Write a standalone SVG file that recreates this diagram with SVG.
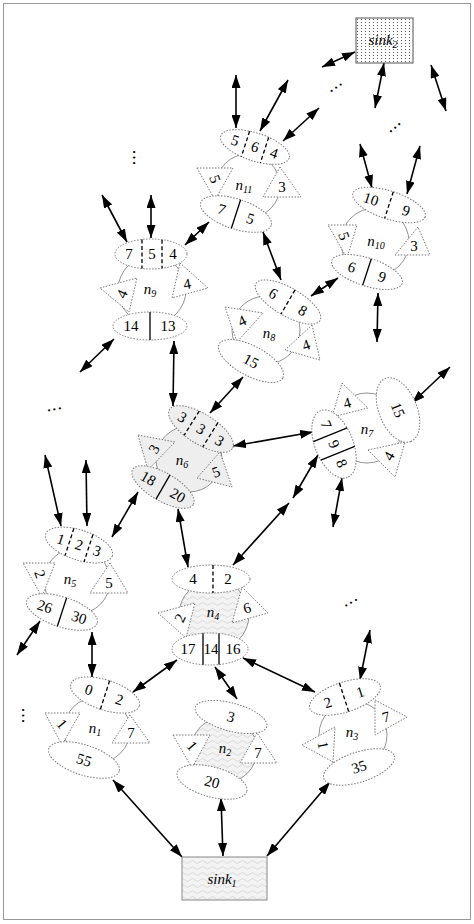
<svg xmlns="http://www.w3.org/2000/svg" width="474" height="924" viewBox="0 0 474 924">
<defs>
<marker id="ah" viewBox="0 0 13 9" refX="13" refY="4.5" markerWidth="13" markerHeight="9" markerUnits="userSpaceOnUse" orient="auto-start-reverse"><path d="M0,0 L13,4.5 L0,9 z" fill="#000"/></marker>
<pattern id="wave" width="10" height="6" patternUnits="userSpaceOnUse"><rect width="10" height="6" fill="#f3f3f3"/><path d="M0,4 Q2.5,1 5,4 T10,4" fill="none" stroke="#d2d2d2" stroke-width="0.8"/></pattern>
<pattern id="dots" width="4" height="3" patternUnits="userSpaceOnUse"><rect width="4" height="3" fill="#fff"/><circle cx="1.5" cy="1.5" r="0.6" fill="#444"/></pattern>
</defs>
<style>
.e{fill:#fff;stroke:#777;stroke-width:1;stroke-dasharray:1.5 1.5}
.b{fill:#fff;stroke:#777;stroke-width:0.8}
.t{fill:#fff;stroke:#777;stroke-width:1;stroke-dasharray:1.5 1.5}
.g .e,.g .b,.g .t{fill:#eeeeee}
.w{fill:url(#wave)}
.ds{stroke:#000;stroke-width:1.3;stroke-dasharray:4 2.5}
.ss{stroke:#000;stroke-width:1.3}
text{font-family:"Liberation Serif",serif;font-size:15px;text-anchor:middle;fill:#000}
.lab{font-style:italic}
.sub{font-size:10px}
.arr line{stroke:#000;stroke-width:1.6;marker-start:url(#ah);marker-end:url(#ah)}
.dd{font-size:18px;letter-spacing:1px}
</style>
<rect x="3.5" y="3.5" width="467" height="916" fill="none" stroke="#999" stroke-width="1"/>

<g id="connectors" class="arr">
<line x1="236" y1="75" x2="236" y2="128"/>
<line x1="288" y1="80" x2="260" y2="131"/>
<line x1="319" y1="108" x2="283" y2="141"/>
<line x1="185" y1="245" x2="209" y2="222"/>
<line x1="263" y1="232" x2="281" y2="280"/>
<line x1="102" y1="195" x2="127" y2="242"/>
<line x1="151" y1="195" x2="151" y2="238"/>
<line x1="114" y1="339" x2="80" y2="372"/>
<line x1="174" y1="341" x2="173" y2="406"/>
<line x1="360" y1="144" x2="372" y2="188"/>
<line x1="420" y1="146" x2="407" y2="194"/>
<line x1="311" y1="296" x2="338" y2="278"/>
<line x1="378" y1="293" x2="377" y2="342"/>
<line x1="243" y1="377" x2="210" y2="413"/>
<line x1="233" y1="446" x2="313" y2="432"/>
<line x1="412" y1="403" x2="450" y2="367"/>
<line x1="318" y1="455" x2="293" y2="498"/>
<line x1="289" y1="503" x2="233" y2="565"/>
<line x1="342" y1="478" x2="333" y2="527"/>
<line x1="138" y1="492" x2="112" y2="537"/>
<line x1="178" y1="509" x2="188" y2="567"/>
<line x1="45" y1="455" x2="61" y2="526"/>
<line x1="86" y1="460" x2="87" y2="526"/>
<line x1="40" y1="621" x2="17" y2="655"/>
<line x1="92" y1="632" x2="92" y2="677"/>
<line x1="133" y1="692" x2="177" y2="660"/>
<line x1="215" y1="667" x2="237" y2="699"/>
<line x1="243" y1="658" x2="315" y2="692"/>
<line x1="370" y1="630" x2="360" y2="680"/>
<line x1="113" y1="780" x2="182" y2="857"/>
<line x1="221" y1="798" x2="223" y2="856"/>
<line x1="330" y1="782" x2="267" y2="856"/>
<line x1="322" y1="67" x2="355" y2="52"/>
<line x1="384" y1="63" x2="375" y2="108"/>
<line x1="431" y1="65" x2="446" y2="111"/>
</g>

<g id="ellipses-dots">
<text class="dd" transform="translate(133,158) rotate(90)" y="0">...</text>
<text class="dd" transform="translate(337,88) rotate(-35)" y="0">...</text>
<text class="dd" transform="translate(396,128) rotate(-40)" y="0">...</text>
<text class="dd" transform="translate(55,410) rotate(-10)" y="0">...</text>
<text class="dd" transform="translate(352,603) rotate(-30)" y="0">...</text>
<text class="dd" transform="translate(22,716) rotate(90)" y="0">...</text>
</g>

<g id="n11">
<circle class="b" cx="248" cy="186" r="32"/>
<polygon class="t" points="197,168 233,168 215,200"/>
<text transform="translate(215,179) rotate(70)" y="5">5</text>
<polygon class="t" points="280,167 263,197 301,197"/>
<text x="282" y="192">3</text>
<g transform="rotate(18 255 147)">
<ellipse class="e" cx="255" cy="147" rx="36" ry="14"/>
<line class="ds" x1="245" y1="133.6" x2="245" y2="160.4"/>
<line class="ds" x1="265" y1="133.6" x2="265" y2="160.4"/>
<text x="234" y="152">5</text><text x="255" y="152">6</text><text x="275" y="152">4</text>
</g>
<g transform="rotate(18 236 214)">
<ellipse class="e" cx="236" cy="214" rx="37" ry="15"/>
<line class="ss" x1="236" y1="199" x2="236" y2="229"/>
<text x="221" y="219">7</text><text x="251" y="219">5</text>
</g>
<text class="lab" x="244" y="190">n<tspan class="sub" dy="3">11</tspan></text>
</g>

<g id="n9">
<circle class="b" cx="152" cy="290" r="34"/>
<polygon class="t" points="100,288 137,278 129,312"/>
<text transform="translate(122,294) rotate(-65)" y="5">4</text>
<polygon class="t" points="180,263 208,288 172,298"/>
<text transform="translate(187,284) rotate(-10)" y="5">4</text>
<ellipse class="e" cx="151" cy="254" rx="36" ry="15"/>
<line class="ds" x1="142" y1="239.6" x2="142" y2="268.4"/>
<line class="ds" x1="162" y1="239.8" x2="162" y2="268.2"/>
<text x="129" y="259">7</text><text x="152" y="259">5</text><text x="173" y="259">4</text>
<ellipse class="e" cx="150" cy="326" rx="37" ry="14"/>
<line class="ss" x1="150" y1="312" x2="150" y2="340"/>
<text x="131" y="331">14</text><text x="168" y="331">13</text>
<text class="lab" x="150" y="294">n<tspan class="sub" dy="3">9</tspan></text>
</g>

<g id="n10">
<circle class="b" cx="375" cy="242" r="34"/>
<polygon class="t" points="328,225 357,225 347,258"/>
<text transform="translate(344,236) rotate(70)" y="5">5</text>
<polygon class="t" points="418,227 395,255 430,255"/>
<text x="414" y="251">3</text>
<g transform="rotate(18 389 205)">
<ellipse class="e" cx="389" cy="205" rx="38" ry="14"/>
<line class="ds" x1="389" y1="191" x2="389" y2="219"/>
<text x="370" y="210">10</text><text x="407" y="210">9</text>
</g>
<g transform="rotate(18 367 272)">
<ellipse class="e" cx="367" cy="272" rx="37" ry="14"/>
<line class="ss" x1="367" y1="258" x2="367" y2="286"/>
<text x="351" y="277">6</text><text x="383" y="277">9</text>
</g>
<text class="lab" x="376" y="246">n<tspan class="sub" dy="3">10</tspan></text>
</g>

<g id="n8">
<circle class="b" cx="266" cy="330" r="34"/>
<polygon class="t" points="225,307 263,313 237,342"/>
<text transform="translate(242,321) rotate(-25)" y="5">4</text>
<polygon class="t" points="312,325 320,360 285,350"/>
<text transform="translate(306,345) rotate(-20)" y="5">4</text>
<g transform="rotate(30 288 302)">
<ellipse class="e" cx="288" cy="302" rx="37" ry="14"/>
<line class="ds" x1="288" y1="288" x2="288" y2="316"/>
<text x="271" y="307">6</text><text x="305" y="307">8</text>
</g>
<g transform="rotate(28 251 361)">
<ellipse class="e" cx="251" cy="361" rx="36" ry="15"/>
<text x="251" y="366">15</text>
</g>
<text class="lab" x="269" y="338">n<tspan class="sub" dy="3">8</tspan></text>
</g>

<g id="n6" class="g">
<circle class="b" cx="189" cy="459" r="33"/>
<polygon class="t" points="138,435 175,442 148,470"/>
<text transform="translate(154,449) rotate(-60)" y="5">3</text>
<polygon class="t" points="220,452 232,487 197,478"/>
<text transform="translate(216,472) rotate(-20)" y="5">5</text>
<g transform="rotate(32 201 429)">
<ellipse class="e" cx="201" cy="429" rx="37" ry="15"/>
<line class="ds" x1="190" y1="414.7" x2="190" y2="443.3"/>
<line class="ds" x1="212" y1="414.7" x2="212" y2="443.3"/>
<text x="179" y="434">3</text><text x="201" y="434">3</text><text x="223" y="434">3</text>
</g>
<g transform="rotate(30 163 487)">
<ellipse class="e" cx="163" cy="487" rx="35" ry="14"/>
<line class="ss" x1="163" y1="473" x2="163" y2="501"/>
<text x="146" y="492">18</text><text x="180" y="492">20</text>
</g>
<text class="lab" x="182" y="465">n<tspan class="sub" dy="3">6</tspan></text>
</g>

<g id="n7">
<circle class="b" cx="367" cy="428" r="35"/>
<polygon class="t" points="342,383 368,408 332,417"/>
<text transform="translate(347,403) rotate(-15)" y="5">4</text>
<polygon class="t" points="368,450 405,442 395,477"/>
<text transform="translate(389,456) rotate(-60)" y="5">4</text>
<g transform="rotate(68 334 444)">
<ellipse class="e" cx="334" cy="444" rx="36" ry="19"/>
<line class="ss" x1="324" y1="425.7" x2="324" y2="462.3"/>
<line class="ss" x1="344" y1="425.7" x2="344" y2="462.3"/>
<text x="313" y="449">7</text><text x="334" y="449">9</text><text x="355" y="449">8</text>
</g>
<g transform="rotate(68 398 410)">
<ellipse class="e" cx="398" cy="410" rx="34" ry="19"/>
<text x="398" y="415">15</text>
</g>
<text class="lab" x="367" y="434">n<tspan class="sub" dy="3">7</tspan></text>
</g>

<g id="n5">
<circle class="b" cx="77" cy="581" r="33"/>
<polygon class="t" points="23,563 55,563 42,597"/>
<text transform="translate(40,574) rotate(70)" y="5">2</text>
<polygon class="t" points="110,563 90,593 128,593"/>
<text x="109" y="588">5</text>
<g transform="rotate(18 79 545)">
<ellipse class="e" cx="79" cy="545" rx="35" ry="15"/>
<line class="ds" x1="69" y1="530.6" x2="69" y2="559.4"/>
<line class="ds" x1="89" y1="530.6" x2="89" y2="559.4"/>
<text x="60" y="550">1</text><text x="79" y="550">2</text><text x="98" y="550">3</text>
</g>
<g transform="rotate(18 62 612)">
<ellipse class="e" cx="62" cy="612" rx="37" ry="15"/>
<line class="ss" x1="62" y1="597" x2="62" y2="627"/>
<text x="44" y="617">26</text><text x="80" y="617">30</text>
</g>
<text class="lab" x="70" y="584">n<tspan class="sub" dy="3">5</tspan></text>
</g>

<g id="n4">
<circle class="b w" cx="214" cy="615" r="35"/>
<polygon class="t" points="158,613 195,603 186,638"/>
<text transform="translate(180,618) rotate(-65)" y="5">2</text>
<polygon class="t" points="242,587 268,613 232,623"/>
<text transform="translate(247,608) rotate(-15)" y="5">6</text>
<ellipse class="e" cx="211" cy="579" rx="39" ry="14"/>
<line class="ds" x1="213" y1="565" x2="213" y2="593"/>
<text x="193" y="584">4</text><text x="228" y="584">2</text>
<ellipse class="e" cx="210" cy="649" rx="38" ry="16"/>
<line class="ss" x1="203" y1="633.3" x2="203" y2="664.7"/>
<line class="ss" x1="219" y1="633.5" x2="219" y2="664.5"/>
<text x="188" y="654">17</text><text x="211" y="654">14</text><text x="233" y="654">16</text>
<text class="lab" x="213" y="617">n<tspan class="sub" dy="3">4</tspan></text>
</g>

<g id="n1">
<circle class="b" cx="97" cy="730" r="33"/>
<polygon class="t" points="45,713 80,713 62,745"/>
<text transform="translate(62,724) rotate(50)" y="5">1</text>
<polygon class="t" points="130,715 112,743 150,743"/>
<text x="131" y="738">7</text>
<g transform="rotate(18 105 695)">
<ellipse class="e" cx="105" cy="695" rx="36" ry="15"/>
<line class="ds" x1="105" y1="680" x2="105" y2="710"/>
<text x="88" y="700">0</text><text x="120" y="700">2</text>
</g>
<g transform="rotate(18 84 760)">
<ellipse class="e" cx="84" cy="760" rx="37" ry="15"/>
<text x="84" y="765">55</text>
</g>
<text class="lab" x="95" y="733">n<tspan class="sub" dy="3">1</tspan></text>
</g>

<g id="n2">
<circle class="b w" cx="224" cy="750" r="33"/>
<polygon class="t" points="173,735 210,735 192,768"/>
<text transform="translate(192,746) rotate(50)" y="5">1</text>
<polygon class="t" points="257,733 240,763 277,763"/>
<text x="258" y="758">7</text>
<g transform="rotate(15 231 717)">
<ellipse class="e" cx="231" cy="717" rx="37" ry="14"/>
<text x="231" y="722">3</text>
</g>
<g transform="rotate(15 212 782)">
<ellipse class="e" cx="212" cy="782" rx="36" ry="15"/>
<text x="212" y="787">20</text>
</g>
<text class="lab" x="225" y="753">n<tspan class="sub" dy="3">2</tspan></text>
</g>

<g id="n3">
<circle class="b" cx="353" cy="735" r="34"/>
<polygon class="t" points="302,745 335,727 333,762"/>
<text transform="translate(323,745) rotate(80)" y="5">1</text>
<polygon class="t" points="375,700 407,717 375,735"/>
<text transform="translate(386,717) rotate(-15)" y="5">7</text>
<g transform="rotate(-18 345 697)">
<ellipse class="e" cx="345" cy="697" rx="37" ry="15"/>
<line class="ds" x1="344" y1="682" x2="344" y2="712"/>
<text x="327" y="702">2</text><text x="361" y="702">1</text>
</g>
<g transform="rotate(-18 359 767)">
<ellipse class="e" cx="359" cy="767" rx="37" ry="15"/>
<text x="359" y="772">35</text>
</g>
<text class="lab" x="352" y="737">n<tspan class="sub" dy="3">3</tspan></text>
</g>

<g id="sink1">
<rect x="182" y="857" width="85" height="43" fill="url(#wave)" stroke="#888" stroke-width="1"/>
<text class="lab" x="222" y="884">sink<tspan class="sub" dy="3">1</tspan></text>
</g>

<g id="sink2">
<rect x="356" y="18" width="57" height="45" fill="url(#dots)" stroke="#555" stroke-width="1"/>
<text class="lab" x="383" y="45">sink<tspan class="sub" dy="3">2</tspan></text>
</g>
</svg>
